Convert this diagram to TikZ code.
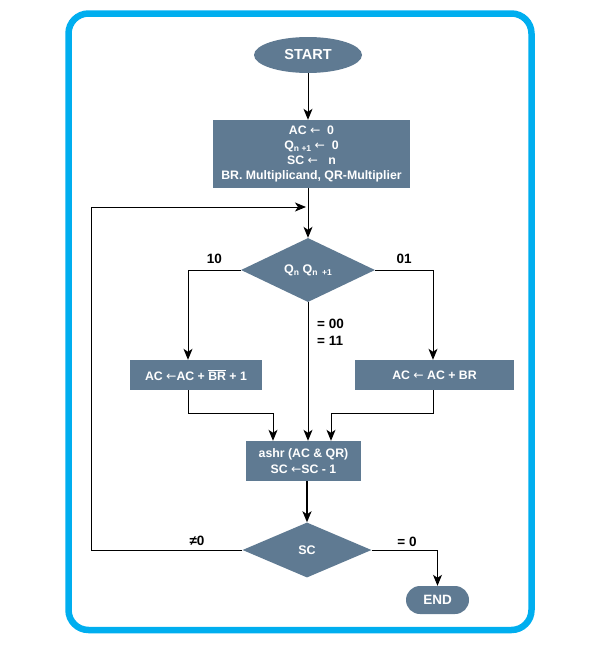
\documentclass[tikz,border=0pt]{standalone}
\usepackage{fontspec}
\setmainfont{Liberation Sans}
\newfontfamily\arrowfont{DejaVu Sans}
\usetikzlibrary{arrows.meta,shapes.geometric}

\definecolor{boxfill}{HTML}{5F7A92}
\definecolor{framecyan}{HTML}{00AEEF}

\newcommand{\lowidx}[1]{{\fontsize{8.5}{9}\selectfont\raisebox{-2pt}{#1}}}
\newcommand{\getsarrow}{{\arrowfont\mdseries ←}}

\tikzset{
    proc/.style={draw=none,fill=boxfill,text=white,font=\bfseries\fontsize{12.3}{15.3}\selectfont,inner sep=0pt,align=center},
    test/.style={diamond,draw=none,fill=boxfill,text=white,font=\bfseries\fontsize{12.5}{14}\selectfont,inner sep=0pt},
    flow/.style={draw=black,line width=1pt,-{Stealth[length=11pt,width=9pt,inset=3pt]}},
    lbl/.style={font=\bfseries\fontsize{13.5}{15}\selectfont,inner sep=0pt}
}

\begin{document}
\begin{tikzpicture}[x=1pt,y=-1pt]
    \useasboundingbox (0,0) rectangle (596,654);

    % marco
    \draw[framecyan,line width=6.5pt,rounded corners=20pt] (68.5,13.5) rectangle (531.5,630);

    % nodos
    \node[ellipse,fill=boxfill,text=white,font=\bfseries\fontsize{14.5}{16}\selectfont,minimum width=108pt,minimum height=36pt,inner sep=0pt] (start) at (308,55) {START};
    \node[proc,minimum width=197pt,minimum height=68pt] (init) at (311.5,154)
        {AC \getsarrow\ \ 0\\Q\lowidx{n +1} \getsarrow\ \ 0\\SC \getsarrow\ \ \ n\\BR. Multiplicand, QR-Multiplier};
    \node[test,minimum width=134pt,minimum height=64pt] (qq) at (308,270) {Q\lowidx{n} Q\lowidx{n \ +1}};
    \node[proc,minimum width=132pt,minimum height=30pt] (sub) at (196,375) {AC \getsarrow AC + $\overline{\mbox{BR}}$ + 1};
    \node[proc,minimum width=159pt,minimum height=30pt] (add) at (434.5,375) {AC \getsarrow\ AC + BR};
    \node[proc,minimum width=115pt,minimum height=40pt] (shift) at (303.5,461) {ashr (AC \& QR)\\SC \getsarrow SC - 1};
    \node[test,minimum width=129pt,minimum height=55pt] (sc) at (307,550) {SC};
    \node[proc,rounded corners=14pt,minimum width=63pt,minimum height=28pt,font=\bfseries\fontsize{13.5}{15}\selectfont] (end) at (437.5,600) {END};

    \coordinate (back) at (306,207);

    % conexiones
    \draw[flow] (start.south) -- (start.south |- init.north);
    \draw[flow] (qq.north |- init.south) -- (qq.north);
    \draw[flow] (qq.west) -| ([xshift=-8pt]sub.north) node[lbl,pos=0.25,above=6pt] {10};
    \draw[flow] (qq.east) -| ([xshift=-1.5pt]add.north) node[lbl,pos=0.25,above=6pt] {01};
    \draw[flow] (qq.south) -- (qq.south |- shift.north);
    \draw[flow] ([xshift=-8pt]sub.south) -- ++(0,23) -| ([xshift=-30.5pt]shift.north);
    \draw[flow] ([xshift=-1.5pt]add.south) -- ++(0,23) -| ([xshift=27.5pt]shift.north);
    \draw[flow,line width=2pt] (sc.north |- shift.south) -- (sc.north);
    \draw[flow] (sc.west) -- ++(-151,0) |- (back);
    \draw[flow] (sc.east) -| (end.north);

    % etiquetas
    \node[lbl,anchor=west] (eq00) at (317,324) {= 00};
    \node[lbl,anchor=west] (eq11) at (317,341) {= 11};
    \node[lbl] (ne0) at (197,541) {≠0};
    \node[lbl] (eq0) at (407,542) {= 0};
\end{tikzpicture}
\end{document}
